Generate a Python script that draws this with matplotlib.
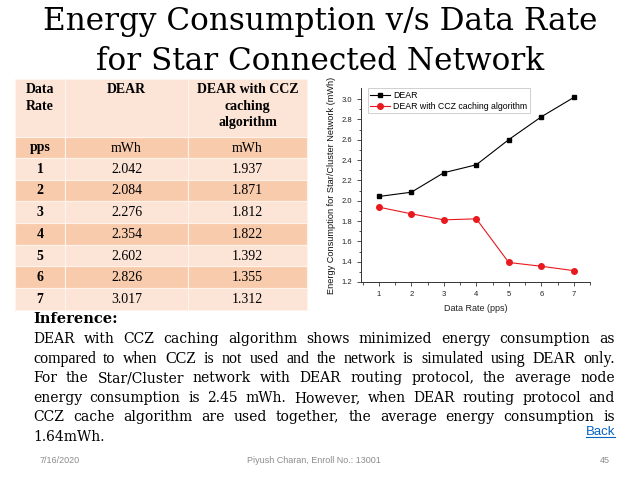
import matplotlib
matplotlib.use("Agg")
import matplotlib.pyplot as plt
from matplotlib.patches import Rectangle
from matplotlib.lines import Line2D

# ---- data ----
rates = [1, 2, 3, 4, 5, 6, 7]
dear = [2.042, 2.084, 2.276, 2.354, 2.602, 2.826, 3.017]
dear_ccz = [1.937, 1.871, 1.812, 1.822, 1.392, 1.355, 1.312]
header = ["Data\nRate", "DEAR", "DEAR with CCZ\ncaching\nalgorithm"]
units = ["pps", "mWh", "mWh"]

title_lines = ["Energy Consumption v/s Data Rate", "for Star Connected Network"]
body_lines = [
    "DEAR with CCZ caching algorithm shows minimized energy consumption as",
    "compared to when CCZ is not used and the network is simulated using DEAR only.",
    "For the Star/Cluster network with DEAR routing protocol, the average node",
    "energy consumption is 2.45 mWh. However, when DEAR routing protocol and",
    "CCZ cache algorithm are used together, the average energy consumption is",
    "1.64mWh.",
]

W, H = 638, 478
fig = plt.figure(figsize=(W / 100, H / 100), dpi=100)
fig.patch.set_facecolor("white")
renderer = fig.canvas.get_renderer()

def fx(px):
    return px / W

def fy(py):
    return 1 - py / H

serif = "Liberation Serif"
wide_serif = "DejaVu Serif"
sans = "Liberation Sans"

# ---- title ----
t1 = fig.text(fx(320), fy(30), title_lines[0], ha="center", va="baseline",
              fontsize=22, family=wide_serif)
scale = 555 / t1.get_window_extent(renderer).width
t1.set_fontsize(22 * scale)
fig.text(fx(320), fy(70), title_lines[1], ha="center", va="baseline",
         fontsize=22 * scale, family=wide_serif)

# ---- table ----
light = "#fce4d6"
dark = "#f8cbad"
col_edges = [15, 65, 188, 307]
row_edges = [79, 137, 158, 180, 201, 223, 245, 266, 288, 310]
tab = fig.add_axes([0, 0, 1, 1], zorder=1)
tab.set_xlim(0, W)
tab.set_ylim(H, 0)
tab.axis("off")
tab.patch.set_alpha(0)

rows = [header, units] + [[str(r), f"{a:.3f}", f"{b:.3f}"]
                          for r, a, b in zip(rates, dear, dear_ccz)]
for i, row in enumerate(rows):
    y0, y1 = row_edges[i], row_edges[i + 1]
    if i == 0:
        color = light
    elif i == 1:
        color = dark
    else:
        color = dark if (i - 2) % 2 == 1 else light
    for j, txt in enumerate(row):
        x0, x1 = col_edges[j], col_edges[j + 1]
        tab.add_patch(Rectangle((x0, y0), x1 - x0, y1 - y0, facecolor=color,
                                edgecolor="#fff4ec", lw=0.8))
        bold = (i == 0) or (j == 0)
        if i == 0:
            tab.text((x0 + x1) / 2 if j > 0 else x0 + 11, y0 + 4, txt,
                     ha="center" if j > 0 else "left", va="top",
                     fontsize=10, family=serif, fontweight="bold",
                     linespacing=1.35)
        else:
            tab.text((x0 + x1) / 2, (y0 + y1) / 2 + 0.5, txt, ha="center",
                     va="center", fontsize=10, family=serif,
                     fontweight="bold" if bold else "normal")

# ---- chart ----
ax = fig.add_axes([fx(361), fy(282), fx(590) - fx(361), fy(88) - fy(282)],
                  zorder=2)
ax.plot(rates, dear, color="black", marker="s", ms=3.5, lw=0.8, label="DEAR")
ax.plot(rates, dear_ccz, color="#e8191f", marker="o", ms=4, lw=0.8,
        label="DEAR with CCZ caching algorithm")
ax.set_xlim(0.45, 7.45)
ax.set_ylim(1.2, 3.11)
ax.set_xticks(rates)
ax.set_yticks([1.2, 1.4, 1.6, 1.8, 2.0, 2.2, 2.4, 2.6, 2.8, 3.0])
ax.set_xticks([r + 0.5 for r in range(0, 8)], minor=True)
ax.set_yticks([1.3 + 0.2 * k for k in range(9)], minor=True)
ax.tick_params(which="both", direction="out", labelsize=5.5, width=0.6,
               colors="#333333", labelcolor="#222222")
ax.tick_params(which="major", length=3)
ax.tick_params(which="minor", length=1.8)
for lab in ax.get_xticklabels() + ax.get_yticklabels():
    lab.set_family(sans)
for s in ["top", "right"]:
    ax.spines[s].set_visible(False)
for s in ["left", "bottom"]:
    ax.spines[s].set_linewidth(0.7)
    ax.spines[s].set_color("#333333")
ax.set_xlabel("Data Rate (pps)", fontsize=6.5, family=sans, labelpad=4,
              color="#222222")
ax.set_ylabel("Energy Consumption for Star/Cluster Network (mWh)",
              fontsize=6.6, family=sans, labelpad=4, color="#111111")
leg = ax.legend(loc="upper left", bbox_to_anchor=(0.01, 1.02),
                prop={"family": sans, "size": 6.3}, frameon=True,
                fancybox=False, borderpad=0.3, handlelength=2.2,
                handletextpad=0.4, labelspacing=0.2)
leg.get_frame().set_edgecolor("#bbbbbb")
leg.get_frame().set_linewidth(0.6)

# ---- inference text ----
fig.text(fx(33), fy(323), "Inference:", fontsize=10.5, family=wide_serif,
         fontweight="bold", ha="left", va="baseline")

left_px, right_px = 33, 615
base = 343
step = 19.6
for k, line in enumerate(body_lines):
    y = fy(base + k * step)
    fam = serif if k == 1 else wide_serif
    size = 11.5 if k == 1 else 10
    words = line.split(" ")
    if k == len(body_lines) - 1:
        fig.text(fx(left_px), y, line, fontsize=size, family=fam,
                 ha="left", va="baseline")
        continue
    arts = []
    widths = []
    for w in words:
        t = fig.text(0, y, w, fontsize=size, family=fam, ha="left",
                     va="baseline")
        arts.append(t)
        widths.append(t.get_window_extent(renderer).width)
    gap = (right_px - left_px - sum(widths)) / (len(words) - 1)
    x = left_px
    for t, wd in zip(arts, widths):
        t.set_x(fx(x))
        x += wd + gap

# ---- back link ----
back = fig.text(fx(615), fy(435), "Back", fontsize=9.5, family=sans,
                color="#0563c1", ha="right", va="baseline")
bb = back.get_window_extent(renderer)
fig.add_artist(Line2D([bb.x0 / W, bb.x1 / W], [fy(437), fy(437)],
                      color="#0563c1", lw=0.8))

# ---- footer ----
gray = "#8c8c8c"
fig.text(fx(40), fy(463), "7/16/2020", fontsize=6.5, family=sans, color=gray,
         ha="left", va="baseline")
fig.text(fx(314), fy(463), "Piyush Charan, Enroll No.: 13001", fontsize=6.5,
         family=sans, color=gray, ha="center", va="baseline")
fig.text(fx(610), fy(463), "45", fontsize=6.5, family=sans, color=gray,
         ha="right", va="baseline")

fig.savefig("out.png", dpi=100)
